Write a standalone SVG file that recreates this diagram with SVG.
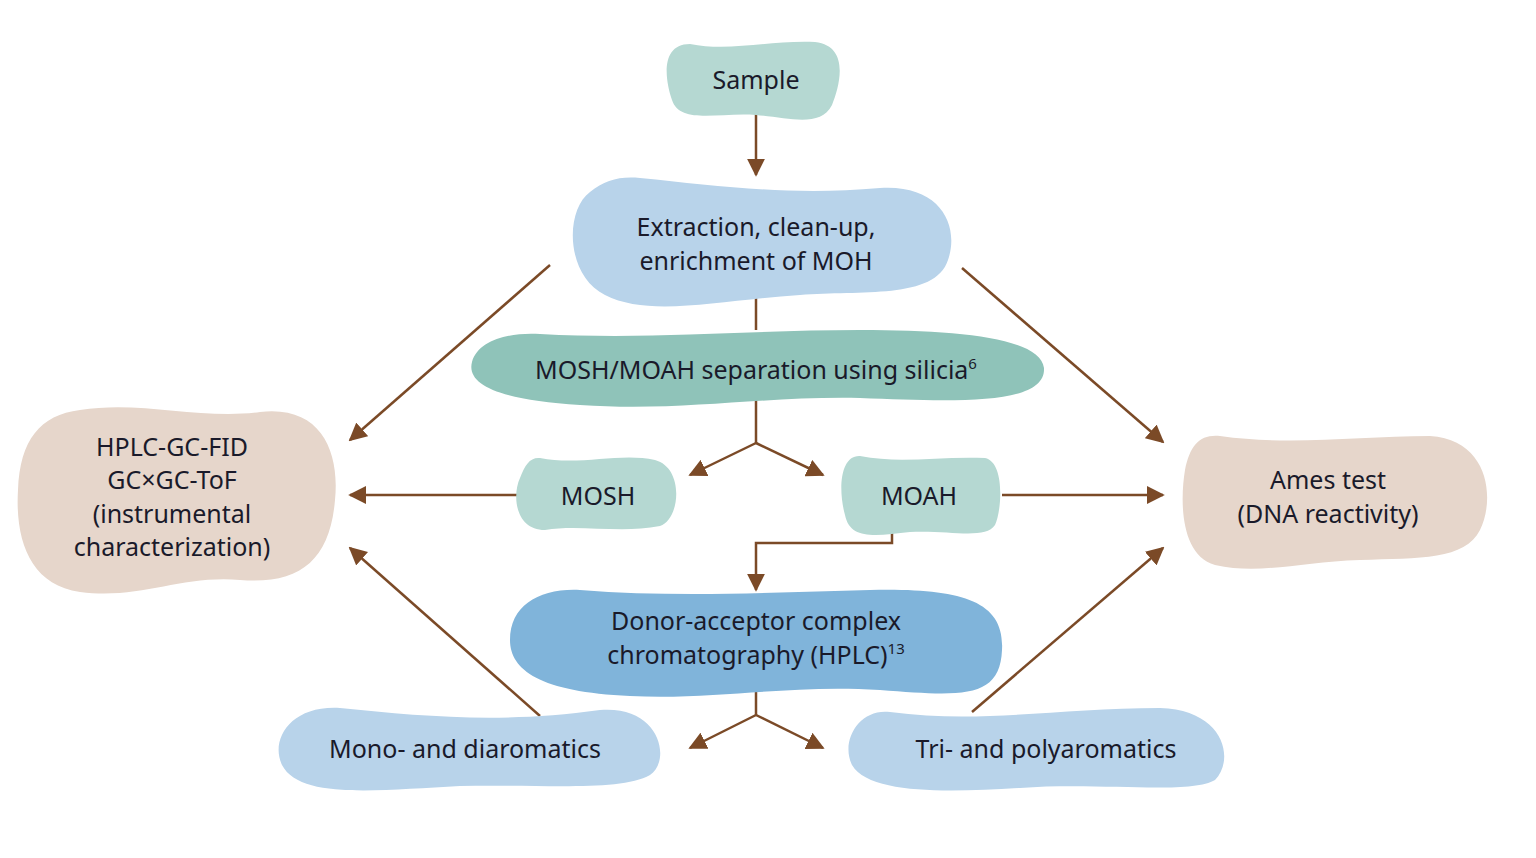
<svg xmlns="http://www.w3.org/2000/svg" width="1536" height="858" viewBox="0 0 1536 858">
<defs>
<marker id="ah" viewBox="0 0 10 10" refX="9" refY="5" markerWidth="7" markerHeight="7" markerUnits="userSpaceOnUse" orient="auto">
<path d="M0,0 L10,5 L0,10 z" fill="#7b4a27"/>
</marker>
<style>
text{font-family:"Noto Sans","DejaVu Sans",sans-serif;font-size:25px;fill:#1a1a2a;text-anchor:middle}
.c{stroke:#7b4a27;stroke-width:2.5;fill:none}
.a{marker-end:url(#ah)}
</style>
</defs>
<rect width="1536" height="858" fill="#fff"/>
<g id="connectors">
<marker id="m2" viewBox="0 0 10 10" refX="9" refY="5" markerWidth="18" markerHeight="18" markerUnits="userSpaceOnUse" orient="auto"><path d="M0,0 L10,5 L0,10 z" fill="#7b4a27"/></marker>
<g style="marker-end:url(#m2)">
<path class="c" d="M756,112 V175"/>
<path class="c" d="M756,443 L690,475"/>
<path class="c" d="M756,443 L823,475"/>
<path class="c" d="M550,265 L350,440"/>
<path class="c" d="M962,268 L1163,442"/>
<path class="c" d="M517,495 H350"/>
<path class="c" d="M1002,495 H1163"/>
<path class="c" d="M892,530 V543 H756 V590"/>
<path class="c" d="M756,715 L690,748"/>
<path class="c" d="M756,715 L823,748"/>
<path class="c" d="M540,716 L350,548"/>
<path class="c" d="M972,712 L1163,548"/>
</g>
<path class="c" d="M756,295 V330"/>
<path class="c" d="M756,400 V443"/>
<path class="c" d="M756,688 V715"/>
</g>
<g id="sample">
<path d="M690,44 C730,52 770,40 815,42 C850,46 840,85 832,105 C820,128 790,118 756,115 C720,112 680,125 672,100 C665,80 660,44 690,44 Z" fill="#b5d8d2"/>
<text x="756" y="89">Sample</text>
</g>
<g id="extraction">
<path d="M640,178 C720,186 790,196 880,188 C940,184 960,225 948,260 C935,300 860,290 800,295 C720,300 650,318 605,295 C565,275 565,210 590,192 C605,180 620,176 640,178 Z" fill="#b8d3ea"/>
<text x="756" y="236">Extraction, clean-up,</text>
<text x="756" y="270">enrichment of MOH</text>
</g>
<g id="separation">
<path d="M540,334 C650,340 750,330 860,330 C960,330 1040,338 1044,368 C1046,405 960,402 860,398 C760,396 680,412 580,405 C500,400 466,385 472,362 C478,340 510,332 540,334 Z" fill="#8fc3b9"/>
<text x="756" y="379">MOSH/MOAH separation using silicia<tspan font-size="15" dy="-10">6</tspan></text>
</g>
<g id="hplc">
<path d="M80,410 C140,400 200,420 260,412 C320,405 340,450 335,500 C330,560 300,585 240,580 C180,575 140,600 80,592 C30,585 15,540 18,490 C20,440 40,415 80,410 Z" fill="#e6d6cb"/>
<text x="172" y="456">HPLC-GC-FID</text>
<text x="172" y="489">GC×GC-ToF</text>
<text x="172" y="523">(instrumental</text>
<text x="172" y="556">characterization)</text>
</g>
<g id="mosh">
<path d="M540,458 C580,466 620,452 655,460 C685,468 680,520 660,526 C620,534 580,524 545,530 C515,530 512,495 520,478 C525,465 530,457 540,458 Z" fill="#b5d8d2"/>
<text x="598" y="505">MOSH</text>
</g>
<g id="moah">
<path d="M860,456 C900,464 940,456 985,458 C1005,462 1002,510 995,525 C985,540 950,530 910,532 C875,536 850,540 845,515 C838,490 840,455 860,456 Z" fill="#b5d8d2"/>
<text x="919" y="505">MOAH</text>
</g>
<g id="ames">
<path d="M1220,436 C1290,446 1360,436 1430,436 C1490,440 1495,500 1480,530 C1465,560 1420,558 1360,560 C1300,562 1260,575 1215,565 C1180,555 1180,500 1185,470 C1190,445 1200,434 1220,436 Z" fill="#e6d6cb"/>
<text x="1328" y="489">Ames test</text>
<text x="1328" y="523">(DNA reactivity)</text>
</g>
<g id="donor">
<path d="M580,590 C680,598 780,592 870,590 C960,588 1005,600 1002,650 C1000,700 960,696 880,690 C790,684 720,700 630,696 C540,692 510,670 510,640 C510,605 540,588 580,590 Z" fill="#80b4da"/>
<text x="756" y="630">Donor-acceptor complex</text>
<text x="756" y="664">chromatography (HPLC)<tspan font-size="15" dy="-10">13</tspan></text>
</g>
<g id="mono">
<path d="M340,708 C420,716 500,724 600,710 C660,705 672,760 650,775 C620,792 540,784 460,786 C380,790 300,800 282,765 C270,740 290,705 340,708 Z" fill="#b8d3ea"/>
<text x="465" y="758">Mono- and diaromatics</text>
</g>
<g id="tri">
<path d="M890,712 C980,724 1060,708 1160,708 C1225,710 1235,760 1215,780 C1190,795 1100,782 1020,788 C950,792 870,795 852,765 C840,740 860,708 890,712 Z" fill="#b8d3ea"/>
<text x="1046" y="758">Tri- and polyaromatics</text>
</g>
</svg>
